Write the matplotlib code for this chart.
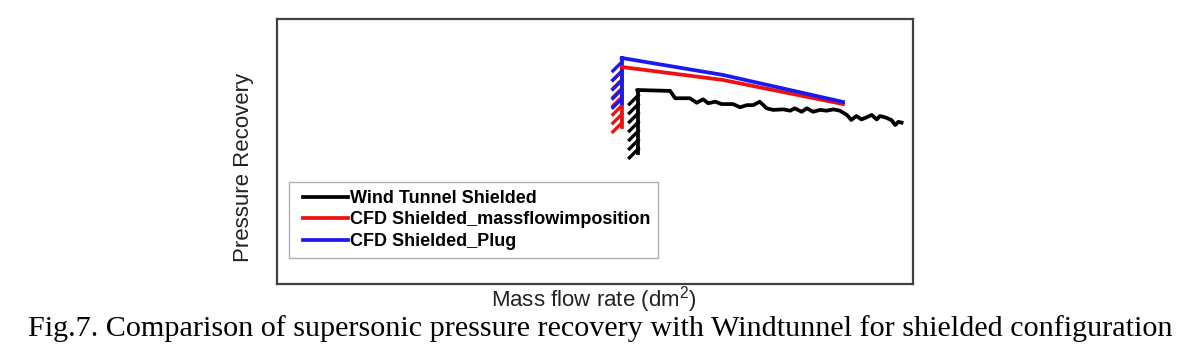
import matplotlib
matplotlib.use("Agg")
import matplotlib.pyplot as plt
import matplotlib.patheffects as pe
from matplotlib.lines import Line2D
from matplotlib.legend_handler import HandlerLine2D

plt.rcParams["font.family"] = ["Liberation Sans", "DejaVu Sans"]
plt.rcParams["mathtext.fontset"] = "custom"
plt.rcParams["mathtext.rm"] = "Liberation Sans"
plt.rcParams["mathtext.it"] = "Liberation Sans"

# values (normalised units, 0-100 on both axes)
wt_x = [56.8, 56.6, 61.3, 61.8, 62.6, 64.9, 66.0, 67.0, 67.8, 68.9, 69.9, 71.7,
        72.8, 73.9, 74.9, 75.9, 77.0, 78.0, 79.6, 80.7, 81.4, 82.5, 83.3, 84.3,
        85.4, 86.4, 87.5, 88.5, 89.6, 90.3, 91.1, 91.9, 92.7, 93.5, 94.3, 94.8,
        95.6, 96.6, 97.2, 97.7, 98.2]
wt_y = [72.8, 73.2, 72.9, 72.9, 70.1, 70.1, 68.4, 69.7, 68.2, 68.8, 67.9, 67.9,
        66.7, 67.5, 67.5, 68.8, 66.3, 65.7, 65.9, 65.4, 66.3, 65.0, 66.3, 65.0,
        65.7, 65.4, 65.9, 65.4, 63.8, 61.9, 63.4, 62.1, 62.9, 63.8, 62.1, 63.4,
        62.9, 61.9, 60.0, 61.2, 60.9]
mfi_x = [54.2, 70.1, 89.0]
mfi_y = [81.9, 77.0, 67.9]
plug_x = [54.2, 70.1, 89.0]
plug_y = [85.3, 78.9, 68.7]

# choke limits (vertical hatched lines): x, bottom, top
wt_choke = (56.8, 49.4, 72.8)
mfi_choke = (54.2, 59.2, 81.9)
plug_choke = (54.2, 68.3, 85.3)

labels = ["Wind Tunnel Shielded", "CFD Shielded_massflowimposition", "CFD Shielded_Plug"]
colors = ["black", "#ee1111", "#1a1aee"]

fig = plt.figure(figsize=(12, 3.61), dpi=100)
ax = fig.add_axes([277 / 1200, 77 / 361, 636 / 1200, 265 / 361])

lw = 2.7
tick = [pe.withTickedStroke(spacing=6.0, angle=135, length=1.5, linewidth=2.4)]
for (cx, y0, y1), c in zip([wt_choke, mfi_choke, plug_choke], colors):
    ax.plot([cx, cx], [y0, y1], color=c, lw=lw, path_effects=tick)

ax.plot(wt_x, wt_y, color=colors[0], lw=lw, label=labels[0])
ax.plot(mfi_x, mfi_y, color=colors[1], lw=lw, label=labels[1])
ax.plot(plug_x, plug_y, color=colors[2], lw=lw, label=labels[2])

ax.set_xlim(0, 100)
ax.set_ylim(0, 100)
ax.set_xticks([])
ax.set_yticks([])
for s in ax.spines.values():
    s.set_linewidth(1.6)
    s.set_color("#404040")

leg = ax.legend(loc="lower left", bbox_to_anchor=(0.019, 0.098, 0.58, 0.283),
                mode="expand", borderaxespad=0, fancybox=False, frameon=True,
                handlelength=2.83, handletextpad=0.11, labelspacing=0.25,
                borderpad=0.45, prop={"weight": "bold", "size": 13},
                handler_map={Line2D: HandlerLine2D(xpad=0.33)})
leg.get_frame().set_edgecolor("#999999")
leg.get_frame().set_linewidth(1.0)

fig.text(243 / 1200, 1 - 167 / 361, "Pressure Recovery", rotation=90,
         ha="center", va="center", fontsize=16, color="#222222")
fig.text(594 / 1200, 1 - 300 / 361, "Mass flow rate (dm$^{2}$)",
         ha="center", va="center", fontsize=16, color="#222222")
fig.text(600 / 1200, 1 - 329 / 361,
         "Fig.7. Comparison of supersonic pressure recovery with Windtunnel for shielded configuration",
         ha="center", va="center", fontsize=21.7, family="Liberation Serif", color="black")

fig.savefig("out.png", dpi=100)
